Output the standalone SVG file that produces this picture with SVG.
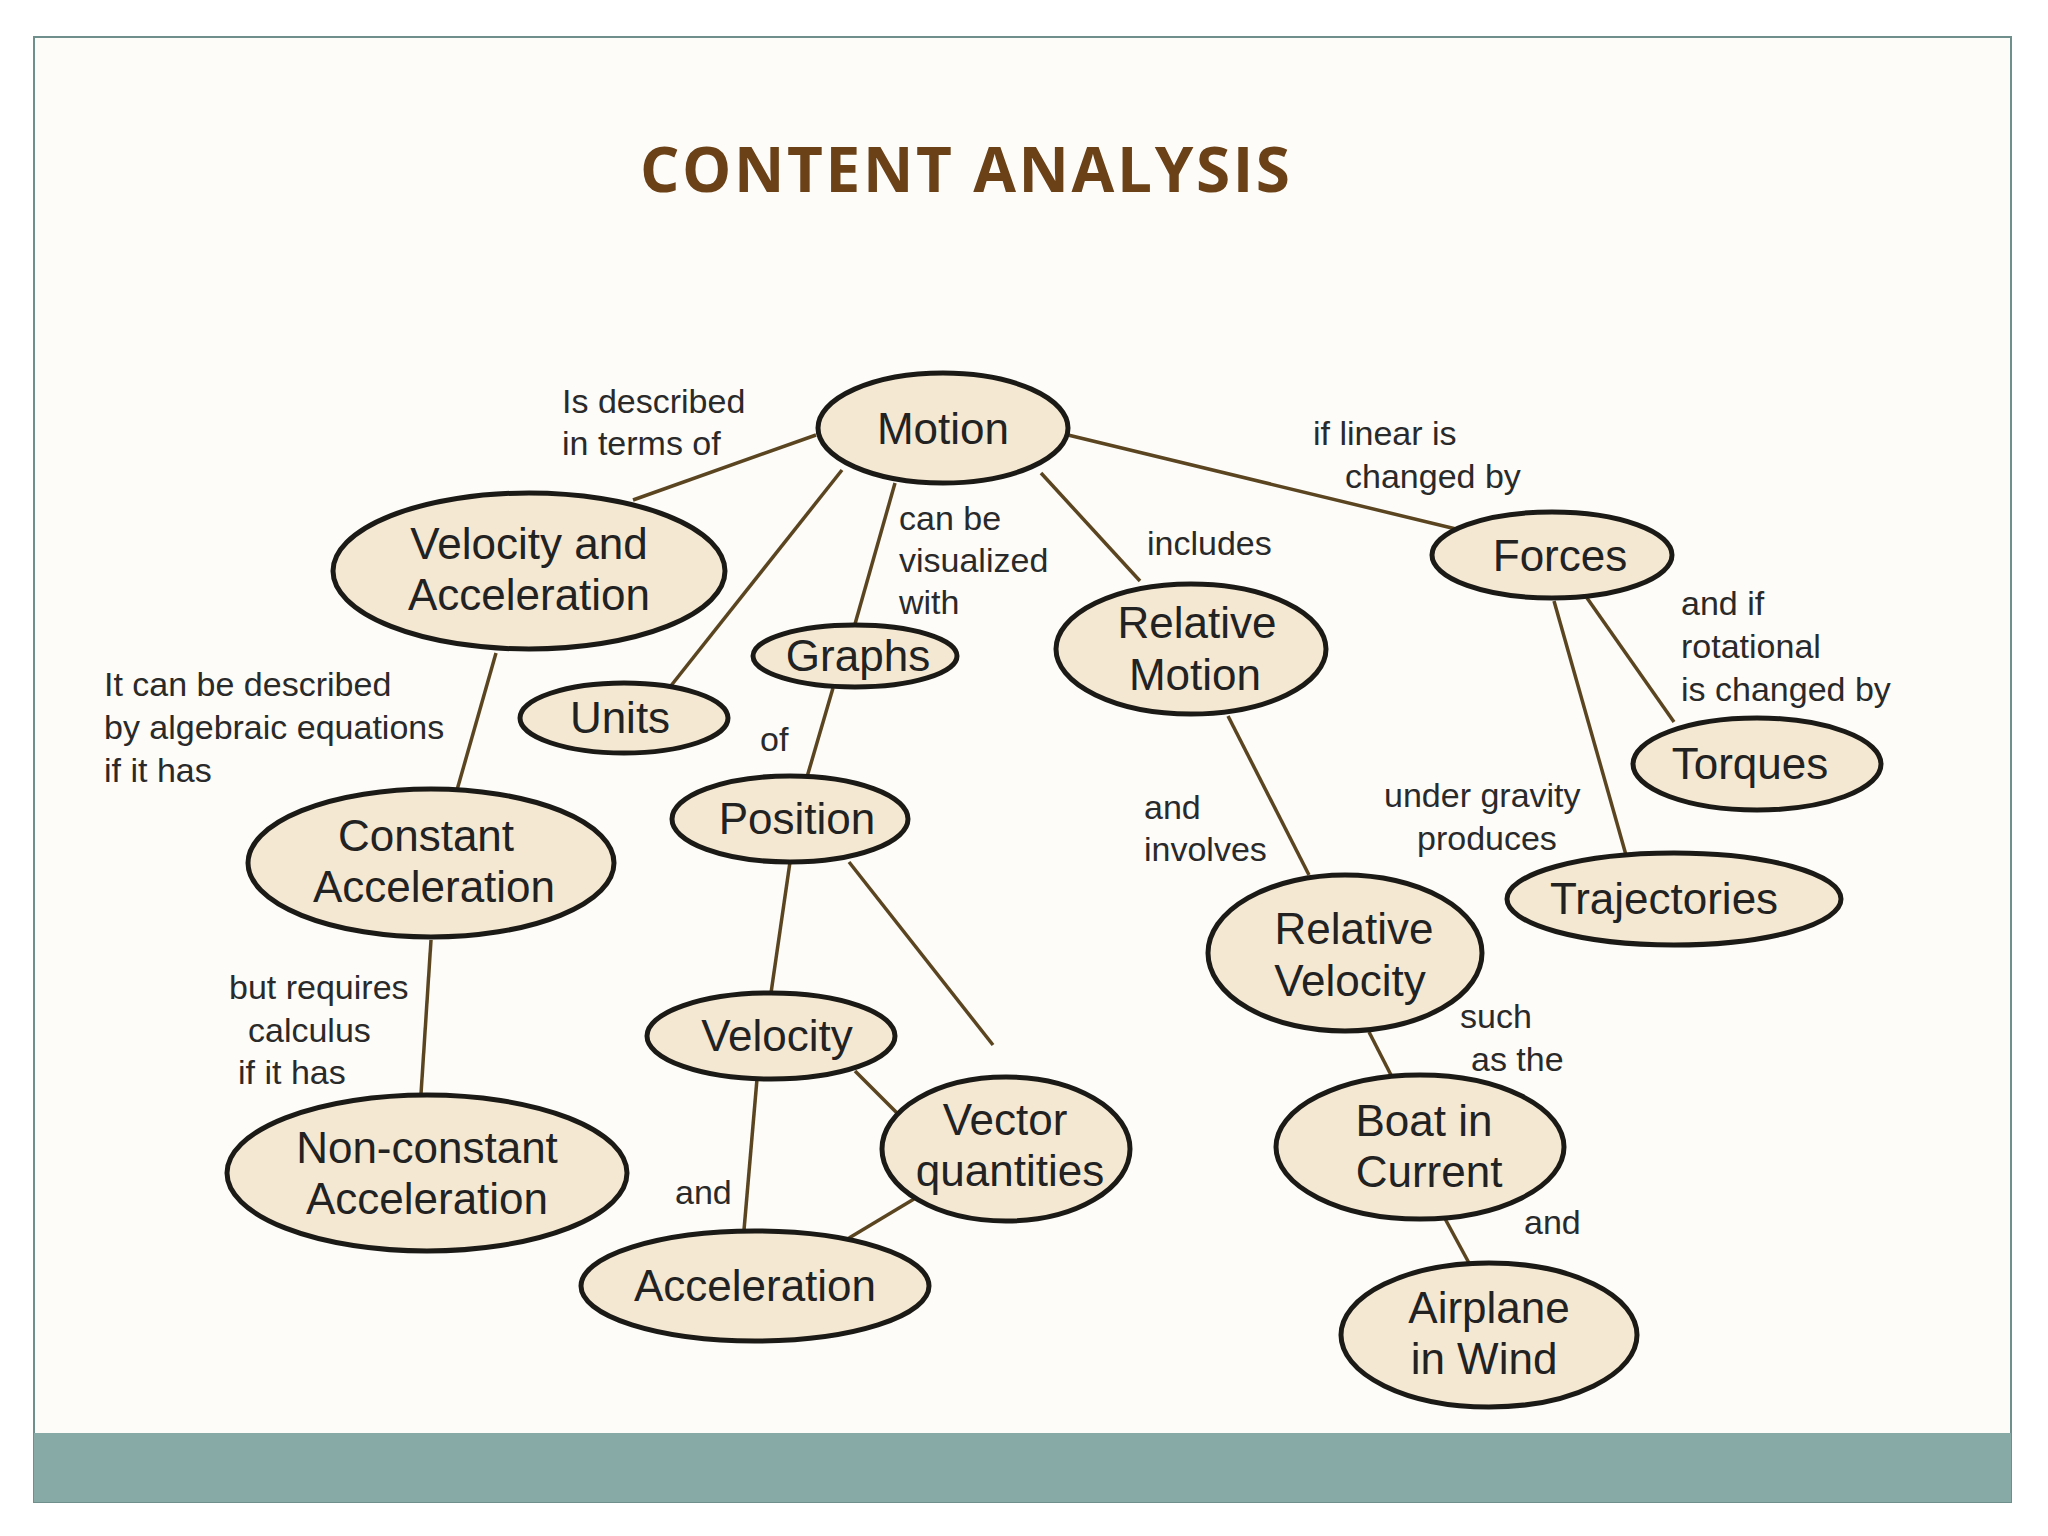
<svg xmlns="http://www.w3.org/2000/svg" width="2048" height="1536" viewBox="0 0 2048 1536">
<style>
.n ellipse{fill:#f4e8d2;stroke:#1c1a16;stroke-width:5}
.n text{font-family:"Liberation Sans",Arial,sans-serif;font-size:44px;fill:#222;text-anchor:middle}
.l{font-family:"Liberation Sans",Arial,sans-serif;font-size:34px;fill:#2a2a2a}
#edges line{stroke:#5a4520;stroke-width:3.5}
</style>
<rect x="0" y="0" width="2048" height="1536" fill="#fff"/>
<rect x="34" y="37" width="1977" height="1465" fill="#fdfcf9" stroke="#6f8f8c" stroke-width="2"/>
<rect x="34" y="1433" width="1977" height="69" fill="#88aaa6"/>
<text x="640" y="192" font-family="'Open Sans','Liberation Sans',sans-serif" font-weight="bold" font-size="62" fill="#6b4218" textLength="650">CONTENT ANALYSIS</text>
<g id="edges">
<line x1="816" y1="435" x2="633" y2="500"/>
<line x1="842" y1="470" x2="666" y2="692"/>
<line x1="895" y1="483" x2="855" y2="624"/>
<line x1="1041" y1="473" x2="1140" y2="581"/>
<line x1="1068" y1="435" x2="1456" y2="529"/>
<line x1="1587" y1="598" x2="1674" y2="722"/>
<line x1="1554" y1="601" x2="1626" y2="855"/>
<line x1="496" y1="653" x2="457" y2="790"/>
<line x1="431" y1="940" x2="421" y2="1094"/>
<line x1="833" y1="688" x2="807" y2="777"/>
<line x1="790" y1="862" x2="771" y2="993"/>
<line x1="849" y1="862" x2="993" y2="1045"/>
<line x1="855" y1="1071" x2="901" y2="1117"/>
<line x1="757" y1="1079" x2="744" y2="1230"/>
<line x1="914" y1="1199" x2="849" y2="1238"/>
<line x1="1228" y1="716" x2="1309" y2="875"/>
<line x1="1369" y1="1032" x2="1391" y2="1075"/>
<line x1="1443" y1="1215" x2="1469" y2="1263"/>
</g>
<g class="l">
<text x="562" y="413">Is described</text><text x="562" y="455">in terms of</text>
<text x="899" y="530">can be</text><text x="899" y="572">visualized</text><text x="899" y="614">with</text>
<text x="1147" y="555">includes</text>
<text x="1313" y="445">if linear is</text><text x="1345" y="488">changed by</text>
<text x="1681" y="615">and if</text><text x="1681" y="658">rotational</text><text x="1681" y="701">is changed by</text>
<text x="104" y="696">It can be described</text><text x="104" y="739">by algebraic equations</text><text x="104" y="782">if it has</text>
<text x="760" y="751">of</text>
<text x="1144" y="819">and</text><text x="1144" y="861">involves</text>
<text x="1384" y="807">under gravity</text><text x="1417" y="850">produces</text>
<text x="229" y="999">but requires</text><text x="248" y="1042">calculus</text><text x="238" y="1084">if it has</text>
<text x="1460" y="1028">such</text><text x="1471" y="1071">as the</text>
<text x="675" y="1204">and</text>
<text x="1524" y="1234">and</text>
</g>
<g id="motion" class="n"><ellipse cx="943" cy="428" rx="125" ry="55"/><text x="943" y="444">Motion</text></g>
<g id="velacc" class="n"><ellipse cx="529" cy="571" rx="196" ry="78"/><text x="529" y="559">Velocity and</text><text x="529" y="610">Acceleration</text></g>
<g id="units" class="n"><ellipse cx="624" cy="718" rx="104" ry="35"/><text x="620" y="733">Units</text></g>
<g id="graphs" class="n"><ellipse cx="855" cy="656" rx="102" ry="31"/><text x="858" y="671">Graphs</text></g>
<g id="relmotion" class="n"><ellipse cx="1191" cy="649" rx="135" ry="65"/><text x="1197" y="638">Relative</text><text x="1195" y="690">Motion</text></g>
<g id="forces" class="n"><ellipse cx="1552" cy="555" rx="120" ry="43"/><text x="1560" y="571">Forces</text></g>
<g id="torques" class="n"><ellipse cx="1757" cy="764" rx="124" ry="46"/><text x="1750" y="779">Torques</text></g>
<g id="traj" class="n"><ellipse cx="1674" cy="899" rx="167" ry="46"/><text x="1664" y="914">Trajectories</text></g>
<g id="constacc" class="n"><ellipse cx="431" cy="863" rx="183" ry="74"/><text x="426" y="851">Constant</text><text x="434" y="902">Acceleration</text></g>
<g id="position" class="n"><ellipse cx="790" cy="819" rx="118" ry="43"/><text x="797" y="834">Position</text></g>
<g id="relvel" class="n"><ellipse cx="1345" cy="953" rx="137" ry="78"/><text x="1354" y="944">Relative</text><text x="1350" y="996">Velocity</text></g>
<g id="velocity" class="n"><ellipse cx="771" cy="1036" rx="124" ry="43"/><text x="777" y="1051">Velocity</text></g>
<g id="vector" class="n"><ellipse cx="1006" cy="1149" rx="124" ry="72"/><text x="1005" y="1135">Vector</text><text x="1010" y="1186">quantities</text></g>
<g id="nonconst" class="n"><ellipse cx="427" cy="1173" rx="200" ry="78"/><text x="427" y="1163">Non-constant</text><text x="427" y="1214">Acceleration</text></g>
<g id="acc" class="n"><ellipse cx="755" cy="1286" rx="174" ry="55"/><text x="755" y="1301">Acceleration</text></g>
<g id="boat" class="n"><ellipse cx="1420" cy="1147" rx="144" ry="72"/><text x="1424" y="1136">Boat in</text><text x="1429" y="1187">Current</text></g>
<g id="airplane" class="n"><ellipse cx="1489" cy="1335" rx="148" ry="72"/><text x="1489" y="1323">Airplane</text><text x="1484" y="1374">in Wind</text></g>
</svg>
